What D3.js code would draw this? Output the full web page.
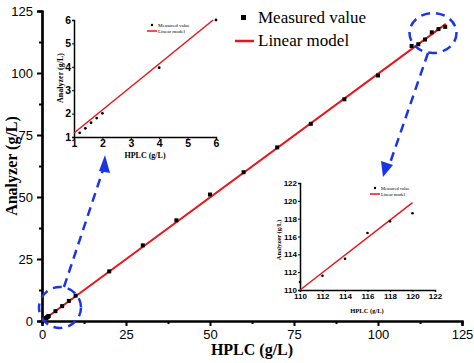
<!DOCTYPE html>
<html><head><meta charset="utf-8">
<script src="https://cdn.jsdelivr.net/npm/d3@7/dist/d3.min.js"></script>
<style>body{margin:0;background:#fff}svg{display:block}</style>
</head><body>
<svg id="c" width="474" height="363"></svg>
<script>
// ---- data ----
const hplc     = [1.2,1.4,1.6,1.8,2,4,6,8,10,20,30,40,50,60,70,80,90,100,110,112,114,116,118,120];
const analyzer = [1.18,1.37,1.61,1.81,2.01,3.96,6.0,8.1,10.2,20,30.5,40.6,51,60,70,79.5,89.4,99,110.9,111.6,113.5,116.4,117.7,118.6];
const mainTicks = [0,25,50,75,100,125];
const lowTicks = [1,2,3,4,5,6];
const highTicks = [110,112,114,116,118,120,122];
const modelMainX = [0,120.2], modelMainY = [0,119.8];
const modelLowX = [1,5.9], modelLowY = [1.17,6.0];
const modelHighX = [110,120], modelHighY = [110,119.8];
const legendLabels = ["Measured value","Linear model"];

const svg = d3.select("#c");
const RED = "#e8161b", BLUE = "#1a35e6";

// ---- main plot ----
const x = d3.scaleLinear().domain([0,125]).range([42,462]);
const y = d3.scaleLinear().domain([0,125]).range([321,11]);
const minor = d3.range(12.5,125,25);

const gx = svg.append("g").attr("transform","translate(0,321)");
gx.append("g").call(d3.axisBottom(x).tickValues(minor).tickSize(3).tickFormat(""));
gx.append("g").call(d3.axisBottom(x).tickValues(mainTicks).tickSize(5).tickPadding(4).tickFormat(d3.format("d")));
const gy = svg.append("g").attr("transform","translate(42,0)");
gy.append("g").call(d3.axisLeft(y).tickValues(minor).tickSize(3).tickFormat(""));
gy.append("g").call(d3.axisLeft(y).tickValues(mainTicks).tickSize(5).tickPadding(4).tickFormat(d3.format("d")));
[gx,gy].forEach(g=>{
  g.selectAll(".domain").attr("stroke","#000").attr("stroke-width",2.2);
  g.selectAll(".tick line").attr("stroke","#000").attr("stroke-width",2);
  g.selectAll(".tick text").attr("font-family","Liberation Sans, Arial, sans-serif").attr("font-size",13).attr("fill","#000");
});

svg.append("text").attr("x",252).attr("y",355).attr("text-anchor","middle")
  .attr("font-family","Liberation Serif, Times New Roman, serif").attr("font-weight","bold").attr("font-size",16).text("HPLC (g/L)");
svg.append("text").attr("transform","translate(17,166) rotate(-90)").attr("text-anchor","middle")
  .attr("font-family","Liberation Serif, Times New Roman, serif").attr("font-weight","bold").attr("font-size",16).text("Analyzer (g/L)");

svg.append("line").attr("x1",x(modelMainX[0])).attr("y1",y(modelMainY[0])).attr("x2",x(modelMainX[1])).attr("y2",y(modelMainY[1]))
  .attr("stroke",RED).attr("stroke-width",2);
svg.append("g").selectAll("rect").data(hplc.map((d,i)=>[d,analyzer[i]])).join("rect")
  .attr("x",d=>x(d[0])-2).attr("y",d=>y(d[1])-2).attr("width",4).attr("height",4).attr("fill","#000");

// main legend
const lg = svg.append("g").attr("font-family","Liberation Serif, Times New Roman, serif").attr("font-size",17);
lg.append("rect").attr("x",241).attr("y",15).attr("width",5).attr("height",5).attr("fill","#000");
lg.append("text").attr("x",258).attr("y",23).text(legendLabels[0]);
lg.append("line").attr("x1",235).attr("x2",254).attr("y1",41).attr("y2",41).attr("stroke",RED).attr("stroke-width",2.5);
lg.append("text").attr("x",258).attr("y",46).text(legendLabels[1]);

// ---- inset helper ----
function inset(xs, ys, xt, yt, fs, mx, my, lx, ly, ptR, titleFs, xTitlePos, yTitlePos, legPos, legFs){
  const g = svg.append("g");
  const fmt = d3.format("d");
  const ax = g.append("g").attr("transform",`translate(0,${ys.range()[0]})`).call(d3.axisBottom(xs).tickValues(xt).tickSize(2).tickPadding(1).tickFormat(fmt));
  const ay = g.append("g").attr("transform",`translate(${xs.range()[0]},0)`).call(d3.axisLeft(ys).tickValues(yt).tickSize(2).tickPadding(1).tickFormat(fmt));
  [ax,ay].forEach(a=>{
    a.selectAll(".domain").attr("stroke","#000").attr("stroke-width",1.5);
    a.selectAll(".tick line").attr("stroke","#000").attr("stroke-width",1);
    a.selectAll(".tick text").attr("font-family","Liberation Sans, Arial, sans-serif").attr("font-weight","bold").attr("font-size",fs).attr("fill","#000");
  });
  g.append("line").attr("x1",xs(mx[0])).attr("y1",ys(my[0])).attr("x2",xs(mx[1])).attr("y2",ys(my[1])).attr("stroke",RED).attr("stroke-width",1.5);
  g.selectAll("circle").data(lx.map((d,i)=>[d,ly[i]])).join("circle")
    .attr("cx",d=>xs(d[0])).attr("cy",d=>ys(d[1])).attr("r",ptR).attr("fill","#000");
  g.append("text").attr("x",xTitlePos[0]).attr("y",xTitlePos[1]).attr("text-anchor","middle")
    .attr("font-family","Liberation Serif, Times New Roman, serif").attr("font-weight","bold").attr("font-size",titleFs).text("HPLC (g/L)");
  g.append("text").attr("transform",`translate(${yTitlePos[0]},${yTitlePos[1]}) rotate(-90)`).attr("text-anchor","middle")
    .attr("font-family","Liberation Serif, Times New Roman, serif").attr("font-weight","bold").attr("font-size",titleFs).text("Analyzer (g/L)");
  const L = g.append("g").attr("font-family","Liberation Serif, Times New Roman, serif").attr("font-size",legFs);
  L.append("circle").attr("cx",legPos[0]+5).attr("cy",legPos[1]).attr("r",1.2).attr("fill","#000");
  L.append("text").attr("x",legPos[0]+11).attr("y",legPos[1]+1.8).text(legendLabels[0]);
  L.append("line").attr("x1",legPos[0]).attr("x2",legPos[0]+10).attr("y1",legPos[1]+6).attr("y2",legPos[1]+6).attr("stroke",RED).attr("stroke-width",1.5);
  L.append("text").attr("x",legPos[0]+11).attr("y",legPos[1]+7.8).text(legendLabels[1]);
}

const lowX = hplc.filter(d=>d<=6), lowY = analyzer.slice(0,lowX.length);
inset(d3.scaleLinear().domain([1,6]).range([74,216]), d3.scaleLinear().domain([1,6]).range([137,20]),
  lowTicks, lowTicks, 10.5, modelLowX, modelLowY, lowX, lowY, 1.4, 8, [145,158], [63,78], [147,25], 5);

const hiIdx = hplc.map((d,i)=>i).filter(i=>hplc[i]>=110);
inset(d3.scaleLinear().domain([110,122]).range([300,435]), d3.scaleLinear().domain([110,122]).range([290,183]),
  highTicks, highTicks, 8, modelHighX, modelHighY, hiIdx.map(i=>hplc[i]), hiIdx.map(i=>analyzer[i]), 1.3, 6.5, [367,313], [281,240], [370,188], 4.5);

// ---- callouts ----
const ell = svg.append("g").attr("fill","none").attr("stroke",BLUE).attr("stroke-width",2.5).attr("stroke-dasharray","9,6");
ell.append("ellipse").attr("cx",60).attr("cy",307.5).attr("rx",21).attr("ry",20.5);
ell.append("ellipse").attr("cx",433).attr("cy",33).attr("rx",23.5).attr("ry",20);
ell.append("line").attr("x1",64).attr("y1",287).attr("x2",103).attr("y2",170);
ell.append("line").attr("x1",428).attr("y1",53).attr("x2",389).attr("y2",166);
svg.append("polygon").attr("points","105,155 99,171 110,173").attr("fill",BLUE);
svg.append("polygon").attr("points","383,177 381,161 393,165").attr("fill",BLUE);
</script>
</body></html>
